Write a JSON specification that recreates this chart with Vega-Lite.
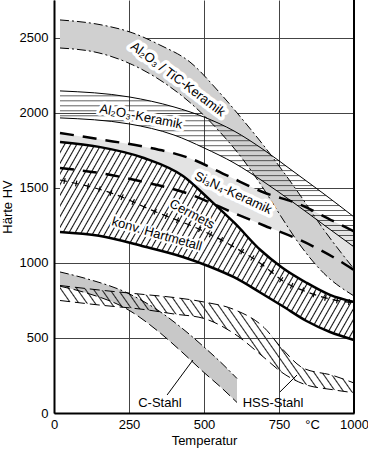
{
"$schema":"https://vega.github.io/schema/vega-lite/v6.json",
"width":300,"height":413,
"autosize":{"type":"none"},
"padding":{"left":54,"top":0,"right":14,"bottom":37},
"background":"white",
"config":{
 "view":{"stroke":null},
 "font":"Liberation Sans",
 "numberFormat":"d",
 "axis":{"labelFont":"Liberation Sans","labelFontSize":13,"labelColor":"#000","titleFont":"Liberation Sans","titleFontSize":13,"titleFontWeight":"normal","titleColor":"#000","ticks":false,"domainColor":"#000","domainWidth":2,"gridColor":"#444","gridWidth":1,"gridOpacity":1},
 "axisX":{"labelPadding":5,"titlePadding":3},
 "axisY":{"labelPadding":6,"titlePadding":5,"tickCount":6}
},
"datasets":{
 "tic":[{"x":20,"lo":2433,"hi":2620},{"x":150,"lo":2400,"hi":2590},{"x":263,"lo":2320,"hi":2533},{"x":353,"lo":2220,"hi":2453},{"x":453,"lo":2070,"hi":2340},{"x":550,"lo":1880,"hi":2140},{"x":630,"lo":1690,"hi":1953},{"x":700,"lo":1490,"hi":1780},{"x":760,"lo":1300,"hi":1620},{"x":820,"lo":1120,"hi":1453},{"x":900,"lo":930,"hi":1220},{"x":1000,"lo":780,"hi":960}],
 "al":[{"x":20,"lo":1967,"hi":2147},{"x":250,"lo":1927,"hi":2107},{"x":400,"lo":1853,"hi":2040},{"x":500,"lo":1767,"hi":1973},{"x":600,"lo":1667,"hi":1880},{"x":700,"lo":1540,"hi":1753},{"x":800,"lo":1400,"hi":1607},{"x":900,"lo":1253,"hi":1460},{"x":1000,"lo":1107,"hi":1307}],
 "si":[{"x":20,"lo":1633,"hi":1867},{"x":150,"lo":1600,"hi":1825},{"x":300,"lo":1540,"hi":1775},{"x":450,"lo":1460,"hi":1700},{"x":580,"lo":1350,"hi":1580},{"x":700,"lo":1250,"hi":1470},{"x":820,"lo":1153,"hi":1390},{"x":930,"lo":1040,"hi":1280},{"x":1000,"lo":953,"hi":1210}],
 "hm":[{"x":20,"lo":1207,"hi":1807},{"x":150,"lo":1181,"hi":1774},{"x":300,"lo":1110,"hi":1700},{"x":430,"lo":1040,"hi":1580},{"x":520,"lo":975,"hi":1420},{"x":600,"lo":905,"hi":1270},{"x":690,"lo":800,"hi":1083},{"x":760,"lo":715,"hi":970},{"x":840,"lo":615,"hi":870},{"x":920,"lo":540,"hi":787},{"x":1000,"lo":487,"hi":740}],
 "ce":[{"x":20,"y":1553},{"x":190,"y":1467},{"x":340,"y":1340},{"x":490,"y":1220},{"x":600,"y":1107},{"x":700,"y":980},{"x":763,"y":880},{"x":843,"y":807},{"x":920,"y":760},{"x":1000,"y":735}],
 "cs":[{"x":20,"lo":845,"hi":940},{"x":100,"lo":805,"hi":900},{"x":250,"lo":685,"hi":795},{"x":350,"lo":540,"hi":680},{"x":430,"lo":400,"hi":560},{"x":500,"lo":270,"hi":440},{"x":560,"lo":165,"hi":330},{"x":610,"lo":70,"hi":230}],
 "hss":[{"x":20,"lo":750,"hi":850},{"x":150,"lo":720,"hi":820},{"x":300,"lo":690,"hi":790},{"x":400,"lo":660,"hi":770},{"x":500,"lo":630,"hi":740},{"x":600,"lo":530,"hi":690},{"x":700,"lo":370,"hi":570},{"x":760,"lo":270,"hi":430},{"x":830,"lo":195,"hi":300},{"x":930,"lo":155,"hi":250},{"x":1000,"lo":135,"hi":200}],
 "lead":[{"g":"c","x":377,"y":120},{"g":"c","x":463,"y":353},{"g":"h","x":753,"y":140},{"g":"h","x":810,"y":253}]
},
"encoding":{"x":{"field":"x","type":"quantitative","scale":{"domain":[0,1000],"nice":false},"title":"Temperatur","axis":{"values":[0,250,500,750,860,1000],"labelExpr":"datum.value == 860 ? '°C' : datum.label","gridOpacity":{"condition":{"test":"datum.value == 860","value":0},"value":1},"labelFlush":false,"labelOverlap":false}}},
"layer":[
 {"data":{"name":"si"},"mark":{"type":"area","interpolate":"monotone","fill":"#e3e3e3"},"encoding":{"y":{"field":"lo","type":"quantitative","scale":{"domain":[0,2753],"nice":false},"title":"Härte HV"},"y2":{"field":"hi"}}},
 {"data":{"name":"tic"},"mark":{"type":"area","interpolate":"monotone","fill":"#d0d0d0"},"encoding":{"y":{"field":"lo","type":"quantitative","scale":{"domain":[0,2753],"nice":false},"title":"Härte HV"},"y2":{"field":"hi"}}},
 {"data":{"name":"al"},"mark":{"type":"area","interpolate":"monotone","fill":{"gradient":"linear","x1":0,"y1":0,"x2":0,"y2":1,"stops":[
{"offset":0.027,"color":"rgba(34,34,34,0)"},{"offset":0.032,"color":"#222"},{"offset":0.037,"color":"rgba(34,34,34,0)"},
{"offset":0.059,"color":"rgba(34,34,34,0)"},{"offset":0.064,"color":"#222"},{"offset":0.069,"color":"rgba(34,34,34,0)"},
{"offset":0.091,"color":"rgba(34,34,34,0)"},{"offset":0.096,"color":"#222"},{"offset":0.101,"color":"rgba(34,34,34,0)"},
{"offset":0.123,"color":"rgba(34,34,34,0)"},{"offset":0.128,"color":"#222"},{"offset":0.133,"color":"rgba(34,34,34,0)"},
{"offset":0.155,"color":"rgba(34,34,34,0)"},{"offset":0.16,"color":"#222"},{"offset":0.165,"color":"rgba(34,34,34,0)"},
{"offset":0.187,"color":"rgba(34,34,34,0)"},{"offset":0.192,"color":"#222"},{"offset":0.197,"color":"rgba(34,34,34,0)"},
{"offset":0.219,"color":"rgba(34,34,34,0)"},{"offset":0.224,"color":"#222"},{"offset":0.229,"color":"rgba(34,34,34,0)"},
{"offset":0.251,"color":"rgba(34,34,34,0)"},{"offset":0.256,"color":"#222"},{"offset":0.261,"color":"rgba(34,34,34,0)"},
{"offset":0.283,"color":"rgba(34,34,34,0)"},{"offset":0.288,"color":"#222"},{"offset":0.293,"color":"rgba(34,34,34,0)"},
{"offset":0.315,"color":"rgba(34,34,34,0)"},{"offset":0.32,"color":"#222"},{"offset":0.325,"color":"rgba(34,34,34,0)"},
{"offset":0.347,"color":"rgba(34,34,34,0)"},{"offset":0.352,"color":"#222"},{"offset":0.357,"color":"rgba(34,34,34,0)"},
{"offset":0.379,"color":"rgba(34,34,34,0)"},{"offset":0.384,"color":"#222"},{"offset":0.389,"color":"rgba(34,34,34,0)"},
{"offset":0.411,"color":"rgba(34,34,34,0)"},{"offset":0.416,"color":"#222"},{"offset":0.421,"color":"rgba(34,34,34,0)"},
{"offset":0.443,"color":"rgba(34,34,34,0)"},{"offset":0.448,"color":"#222"},{"offset":0.453,"color":"rgba(34,34,34,0)"},
{"offset":0.475,"color":"rgba(34,34,34,0)"},{"offset":0.48,"color":"#222"},{"offset":0.485,"color":"rgba(34,34,34,0)"},
{"offset":0.507,"color":"rgba(34,34,34,0)"},{"offset":0.512,"color":"#222"},{"offset":0.517,"color":"rgba(34,34,34,0)"},
{"offset":0.539,"color":"rgba(34,34,34,0)"},{"offset":0.544,"color":"#222"},{"offset":0.549,"color":"rgba(34,34,34,0)"},
{"offset":0.571,"color":"rgba(34,34,34,0)"},{"offset":0.576,"color":"#222"},{"offset":0.581,"color":"rgba(34,34,34,0)"},
{"offset":0.603,"color":"rgba(34,34,34,0)"},{"offset":0.608,"color":"#222"},{"offset":0.613,"color":"rgba(34,34,34,0)"},
{"offset":0.635,"color":"rgba(34,34,34,0)"},{"offset":0.64,"color":"#222"},{"offset":0.645,"color":"rgba(34,34,34,0)"},
{"offset":0.667,"color":"rgba(34,34,34,0)"},{"offset":0.672,"color":"#222"},{"offset":0.677,"color":"rgba(34,34,34,0)"},
{"offset":0.699,"color":"rgba(34,34,34,0)"},{"offset":0.704,"color":"#222"},{"offset":0.709,"color":"rgba(34,34,34,0)"},
{"offset":0.731,"color":"rgba(34,34,34,0)"},{"offset":0.736,"color":"#222"},{"offset":0.741,"color":"rgba(34,34,34,0)"},
{"offset":0.763,"color":"rgba(34,34,34,0)"},{"offset":0.768,"color":"#222"},{"offset":0.773,"color":"rgba(34,34,34,0)"},
{"offset":0.795,"color":"rgba(34,34,34,0)"},{"offset":0.8,"color":"#222"},{"offset":0.805,"color":"rgba(34,34,34,0)"},
{"offset":0.827,"color":"rgba(34,34,34,0)"},{"offset":0.832,"color":"#222"},{"offset":0.837,"color":"rgba(34,34,34,0)"},
{"offset":0.859,"color":"rgba(34,34,34,0)"},{"offset":0.864,"color":"#222"},{"offset":0.869,"color":"rgba(34,34,34,0)"},
{"offset":0.891,"color":"rgba(34,34,34,0)"},{"offset":0.896,"color":"#222"},{"offset":0.901,"color":"rgba(34,34,34,0)"},
{"offset":0.923,"color":"rgba(34,34,34,0)"},{"offset":0.928,"color":"#222"},{"offset":0.933,"color":"rgba(34,34,34,0)"},
{"offset":0.955,"color":"rgba(34,34,34,0)"},{"offset":0.96,"color":"#222"},{"offset":0.965,"color":"rgba(34,34,34,0)"},
{"offset":0.987,"color":"rgba(34,34,34,0)"},{"offset":0.992,"color":"#222"},{"offset":0.997,"color":"rgba(34,34,34,0)"}
]}},"encoding":{"y":{"field":"lo","type":"quantitative","scale":{"domain":[0,2753],"nice":false},"title":"Härte HV"},"y2":{"field":"hi"}}},
 {"data":{"name":"hm"},"mark":{"type":"area","interpolate":"monotone","fill":{"gradient":"linear","x1":0,"y1":0,"x2":1.2,"y2":0.46,"stops":[
{"offset":0.012,"color":"#fff"},{"offset":0.015,"color":"#111"},{"offset":0.018,"color":"#fff"},
{"offset":0.027,"color":"#fff"},{"offset":0.03,"color":"#111"},{"offset":0.033,"color":"#fff"},
{"offset":0.042,"color":"#fff"},{"offset":0.045,"color":"#111"},{"offset":0.048,"color":"#fff"},
{"offset":0.057,"color":"#fff"},{"offset":0.06,"color":"#111"},{"offset":0.063,"color":"#fff"},
{"offset":0.072,"color":"#fff"},{"offset":0.075,"color":"#111"},{"offset":0.078,"color":"#fff"},
{"offset":0.087,"color":"#fff"},{"offset":0.09,"color":"#111"},{"offset":0.093,"color":"#fff"},
{"offset":0.102,"color":"#fff"},{"offset":0.105,"color":"#111"},{"offset":0.108,"color":"#fff"},
{"offset":0.117,"color":"#fff"},{"offset":0.12,"color":"#111"},{"offset":0.123,"color":"#fff"},
{"offset":0.132,"color":"#fff"},{"offset":0.135,"color":"#111"},{"offset":0.138,"color":"#fff"},
{"offset":0.147,"color":"#fff"},{"offset":0.15,"color":"#111"},{"offset":0.153,"color":"#fff"},
{"offset":0.162,"color":"#fff"},{"offset":0.165,"color":"#111"},{"offset":0.168,"color":"#fff"},
{"offset":0.177,"color":"#fff"},{"offset":0.18,"color":"#111"},{"offset":0.183,"color":"#fff"},
{"offset":0.192,"color":"#fff"},{"offset":0.195,"color":"#111"},{"offset":0.198,"color":"#fff"},
{"offset":0.207,"color":"#fff"},{"offset":0.21,"color":"#111"},{"offset":0.213,"color":"#fff"},
{"offset":0.222,"color":"#fff"},{"offset":0.225,"color":"#111"},{"offset":0.228,"color":"#fff"},
{"offset":0.237,"color":"#fff"},{"offset":0.24,"color":"#111"},{"offset":0.243,"color":"#fff"},
{"offset":0.252,"color":"#fff"},{"offset":0.255,"color":"#111"},{"offset":0.258,"color":"#fff"},
{"offset":0.267,"color":"#fff"},{"offset":0.27,"color":"#111"},{"offset":0.273,"color":"#fff"},
{"offset":0.282,"color":"#fff"},{"offset":0.285,"color":"#111"},{"offset":0.288,"color":"#fff"},
{"offset":0.297,"color":"#fff"},{"offset":0.3,"color":"#111"},{"offset":0.303,"color":"#fff"},
{"offset":0.312,"color":"#fff"},{"offset":0.315,"color":"#111"},{"offset":0.318,"color":"#fff"},
{"offset":0.327,"color":"#fff"},{"offset":0.33,"color":"#111"},{"offset":0.333,"color":"#fff"},
{"offset":0.342,"color":"#fff"},{"offset":0.345,"color":"#111"},{"offset":0.348,"color":"#fff"},
{"offset":0.357,"color":"#fff"},{"offset":0.36,"color":"#111"},{"offset":0.363,"color":"#fff"},
{"offset":0.372,"color":"#fff"},{"offset":0.375,"color":"#111"},{"offset":0.378,"color":"#fff"},
{"offset":0.387,"color":"#fff"},{"offset":0.39,"color":"#111"},{"offset":0.393,"color":"#fff"},
{"offset":0.402,"color":"#fff"},{"offset":0.405,"color":"#111"},{"offset":0.408,"color":"#fff"},
{"offset":0.417,"color":"#fff"},{"offset":0.42,"color":"#111"},{"offset":0.423,"color":"#fff"},
{"offset":0.432,"color":"#fff"},{"offset":0.435,"color":"#111"},{"offset":0.438,"color":"#fff"},
{"offset":0.447,"color":"#fff"},{"offset":0.45,"color":"#111"},{"offset":0.453,"color":"#fff"},
{"offset":0.462,"color":"#fff"},{"offset":0.465,"color":"#111"},{"offset":0.468,"color":"#fff"},
{"offset":0.477,"color":"#fff"},{"offset":0.48,"color":"#111"},{"offset":0.483,"color":"#fff"},
{"offset":0.492,"color":"#fff"},{"offset":0.495,"color":"#111"},{"offset":0.498,"color":"#fff"},
{"offset":0.507,"color":"#fff"},{"offset":0.51,"color":"#111"},{"offset":0.513,"color":"#fff"},
{"offset":0.522,"color":"#fff"},{"offset":0.525,"color":"#111"},{"offset":0.528,"color":"#fff"},
{"offset":0.537,"color":"#fff"},{"offset":0.54,"color":"#111"},{"offset":0.543,"color":"#fff"},
{"offset":0.552,"color":"#fff"},{"offset":0.555,"color":"#111"},{"offset":0.558,"color":"#fff"},
{"offset":0.567,"color":"#fff"},{"offset":0.57,"color":"#111"},{"offset":0.573,"color":"#fff"},
{"offset":0.582,"color":"#fff"},{"offset":0.585,"color":"#111"},{"offset":0.588,"color":"#fff"},
{"offset":0.597,"color":"#fff"},{"offset":0.6,"color":"#111"},{"offset":0.603,"color":"#fff"},
{"offset":0.612,"color":"#fff"},{"offset":0.615,"color":"#111"},{"offset":0.618,"color":"#fff"},
{"offset":0.627,"color":"#fff"},{"offset":0.63,"color":"#111"},{"offset":0.633,"color":"#fff"},
{"offset":0.642,"color":"#fff"},{"offset":0.645,"color":"#111"},{"offset":0.648,"color":"#fff"},
{"offset":0.657,"color":"#fff"},{"offset":0.66,"color":"#111"},{"offset":0.663,"color":"#fff"},
{"offset":0.672,"color":"#fff"},{"offset":0.675,"color":"#111"},{"offset":0.678,"color":"#fff"},
{"offset":0.687,"color":"#fff"},{"offset":0.69,"color":"#111"},{"offset":0.693,"color":"#fff"},
{"offset":0.702,"color":"#fff"},{"offset":0.705,"color":"#111"},{"offset":0.708,"color":"#fff"},
{"offset":0.717,"color":"#fff"},{"offset":0.72,"color":"#111"},{"offset":0.723,"color":"#fff"},
{"offset":0.732,"color":"#fff"},{"offset":0.735,"color":"#111"},{"offset":0.738,"color":"#fff"},
{"offset":0.747,"color":"#fff"},{"offset":0.75,"color":"#111"},{"offset":0.753,"color":"#fff"},
{"offset":0.762,"color":"#fff"},{"offset":0.765,"color":"#111"},{"offset":0.768,"color":"#fff"},
{"offset":0.777,"color":"#fff"},{"offset":0.78,"color":"#111"},{"offset":0.783,"color":"#fff"},
{"offset":0.792,"color":"#fff"},{"offset":0.795,"color":"#111"},{"offset":0.798,"color":"#fff"},
{"offset":0.807,"color":"#fff"},{"offset":0.81,"color":"#111"},{"offset":0.813,"color":"#fff"},
{"offset":0.822,"color":"#fff"},{"offset":0.825,"color":"#111"},{"offset":0.828,"color":"#fff"},
{"offset":0.837,"color":"#fff"},{"offset":0.84,"color":"#111"},{"offset":0.843,"color":"#fff"},
{"offset":0.852,"color":"#fff"},{"offset":0.855,"color":"#111"},{"offset":0.858,"color":"#fff"},
{"offset":0.867,"color":"#fff"},{"offset":0.87,"color":"#111"},{"offset":0.873,"color":"#fff"},
{"offset":0.882,"color":"#fff"},{"offset":0.885,"color":"#111"},{"offset":0.888,"color":"#fff"},
{"offset":0.897,"color":"#fff"},{"offset":0.9,"color":"#111"},{"offset":0.903,"color":"#fff"},
{"offset":0.912,"color":"#fff"},{"offset":0.915,"color":"#111"},{"offset":0.918,"color":"#fff"},
{"offset":0.927,"color":"#fff"},{"offset":0.93,"color":"#111"},{"offset":0.933,"color":"#fff"},
{"offset":0.942,"color":"#fff"},{"offset":0.945,"color":"#111"},{"offset":0.948,"color":"#fff"},
{"offset":0.957,"color":"#fff"},{"offset":0.96,"color":"#111"},{"offset":0.963,"color":"#fff"},
{"offset":0.972,"color":"#fff"},{"offset":0.975,"color":"#111"},{"offset":0.978,"color":"#fff"},
{"offset":0.987,"color":"#fff"},{"offset":0.99,"color":"#111"},{"offset":0.993,"color":"#fff"}
]}},"encoding":{"y":{"field":"lo","type":"quantitative","scale":{"domain":[0,2753],"nice":false},"title":"Härte HV"},"y2":{"field":"hi"}}},
 {"data":{"name":"cs"},"mark":{"type":"area","interpolate":"monotone","fill":"#c8c8c8"},"encoding":{"y":{"field":"lo","type":"quantitative","scale":{"domain":[0,2753],"nice":false},"title":"Härte HV"},"y2":{"field":"hi"}}},
 {"data":{"name":"hss"},"mark":{"type":"area","interpolate":"monotone","fill":{"gradient":"linear","x1":0,"y1":1,"x2":1.18,"y2":0.7,"stops":[
{"offset":0.1945,"color":"rgba(34,34,34,0)"},{"offset":0.198,"color":"#222"},{"offset":0.2015,"color":"rgba(34,34,34,0)"},
{"offset":0.2165,"color":"rgba(34,34,34,0)"},{"offset":0.22,"color":"#222"},{"offset":0.2235,"color":"rgba(34,34,34,0)"},
{"offset":0.2385,"color":"rgba(34,34,34,0)"},{"offset":0.242,"color":"#222"},{"offset":0.2455,"color":"rgba(34,34,34,0)"},
{"offset":0.2605,"color":"rgba(34,34,34,0)"},{"offset":0.264,"color":"#222"},{"offset":0.2675,"color":"rgba(34,34,34,0)"},
{"offset":0.2825,"color":"rgba(34,34,34,0)"},{"offset":0.286,"color":"#222"},{"offset":0.2895,"color":"rgba(34,34,34,0)"},
{"offset":0.3045,"color":"rgba(34,34,34,0)"},{"offset":0.308,"color":"#222"},{"offset":0.3115,"color":"rgba(34,34,34,0)"},
{"offset":0.3265,"color":"rgba(34,34,34,0)"},{"offset":0.33,"color":"#222"},{"offset":0.3335,"color":"rgba(34,34,34,0)"},
{"offset":0.3485,"color":"rgba(34,34,34,0)"},{"offset":0.352,"color":"#222"},{"offset":0.3555,"color":"rgba(34,34,34,0)"},
{"offset":0.3705,"color":"rgba(34,34,34,0)"},{"offset":0.374,"color":"#222"},{"offset":0.3775,"color":"rgba(34,34,34,0)"},
{"offset":0.3925,"color":"rgba(34,34,34,0)"},{"offset":0.396,"color":"#222"},{"offset":0.3995,"color":"rgba(34,34,34,0)"},
{"offset":0.4145,"color":"rgba(34,34,34,0)"},{"offset":0.418,"color":"#222"},{"offset":0.4215,"color":"rgba(34,34,34,0)"},
{"offset":0.4365,"color":"rgba(34,34,34,0)"},{"offset":0.44,"color":"#222"},{"offset":0.4435,"color":"rgba(34,34,34,0)"},
{"offset":0.4585,"color":"rgba(34,34,34,0)"},{"offset":0.462,"color":"#222"},{"offset":0.4655,"color":"rgba(34,34,34,0)"},
{"offset":0.4805,"color":"rgba(34,34,34,0)"},{"offset":0.484,"color":"#222"},{"offset":0.4875,"color":"rgba(34,34,34,0)"},
{"offset":0.5025,"color":"rgba(34,34,34,0)"},{"offset":0.506,"color":"#222"},{"offset":0.5095,"color":"rgba(34,34,34,0)"},
{"offset":0.5245,"color":"rgba(34,34,34,0)"},{"offset":0.528,"color":"#222"},{"offset":0.5315,"color":"rgba(34,34,34,0)"},
{"offset":0.5465,"color":"rgba(34,34,34,0)"},{"offset":0.55,"color":"#222"},{"offset":0.5535,"color":"rgba(34,34,34,0)"},
{"offset":0.5685,"color":"rgba(34,34,34,0)"},{"offset":0.572,"color":"#222"},{"offset":0.5755,"color":"rgba(34,34,34,0)"},
{"offset":0.5905,"color":"rgba(34,34,34,0)"},{"offset":0.594,"color":"#222"},{"offset":0.5975,"color":"rgba(34,34,34,0)"},
{"offset":0.6125,"color":"rgba(34,34,34,0)"},{"offset":0.616,"color":"#222"},{"offset":0.6195,"color":"rgba(34,34,34,0)"},
{"offset":0.6345,"color":"rgba(34,34,34,0)"},{"offset":0.638,"color":"#222"},{"offset":0.6415,"color":"rgba(34,34,34,0)"},
{"offset":0.6565,"color":"rgba(34,34,34,0)"},{"offset":0.66,"color":"#222"},{"offset":0.6635,"color":"rgba(34,34,34,0)"},
{"offset":0.6785,"color":"rgba(34,34,34,0)"},{"offset":0.682,"color":"#222"},{"offset":0.6855,"color":"rgba(34,34,34,0)"},
{"offset":0.7005,"color":"rgba(34,34,34,0)"},{"offset":0.704,"color":"#222"},{"offset":0.7075,"color":"rgba(34,34,34,0)"},
{"offset":0.7225,"color":"rgba(34,34,34,0)"},{"offset":0.726,"color":"#222"},{"offset":0.7295,"color":"rgba(34,34,34,0)"},
{"offset":0.7445,"color":"rgba(34,34,34,0)"},{"offset":0.748,"color":"#222"},{"offset":0.7515,"color":"rgba(34,34,34,0)"},
{"offset":0.7665,"color":"rgba(34,34,34,0)"},{"offset":0.77,"color":"#222"},{"offset":0.7735,"color":"rgba(34,34,34,0)"},
{"offset":0.7885,"color":"rgba(34,34,34,0)"},{"offset":0.792,"color":"#222"},{"offset":0.7955,"color":"rgba(34,34,34,0)"},
{"offset":0.8105,"color":"rgba(34,34,34,0)"},{"offset":0.814,"color":"#222"},{"offset":0.8175,"color":"rgba(34,34,34,0)"},
{"offset":0.8325,"color":"rgba(34,34,34,0)"},{"offset":0.836,"color":"#222"},{"offset":0.8395,"color":"rgba(34,34,34,0)"},
{"offset":0.8545,"color":"rgba(34,34,34,0)"},{"offset":0.858,"color":"#222"},{"offset":0.8615,"color":"rgba(34,34,34,0)"},
{"offset":0.8765,"color":"rgba(34,34,34,0)"},{"offset":0.88,"color":"#222"},{"offset":0.8835,"color":"rgba(34,34,34,0)"},
{"offset":0.8985,"color":"rgba(34,34,34,0)"},{"offset":0.902,"color":"#222"},{"offset":0.9055,"color":"rgba(34,34,34,0)"},
{"offset":0.9205,"color":"rgba(34,34,34,0)"},{"offset":0.924,"color":"#222"},{"offset":0.9275,"color":"rgba(34,34,34,0)"},
{"offset":0.9425,"color":"rgba(34,34,34,0)"},{"offset":0.946,"color":"#222"},{"offset":0.9495,"color":"rgba(34,34,34,0)"},
{"offset":0.9645,"color":"rgba(34,34,34,0)"},{"offset":0.968,"color":"#222"},{"offset":0.9715,"color":"rgba(34,34,34,0)"},
{"offset":0.9865,"color":"rgba(34,34,34,0)"},{"offset":0.99,"color":"#222"},{"offset":0.9935,"color":"rgba(34,34,34,0)"}
]}},"encoding":{"y":{"field":"lo","type":"quantitative","scale":{"domain":[0,2753],"nice":false},"title":"Härte HV"},"y2":{"field":"hi"}}},
 {"data":{"name":"tic"},"mark":{"type":"line","interpolate":"monotone","color":"#000","strokeWidth":1,"strokeDash":[9,3,2,3]},"encoding":{"y":{"field":"hi","type":"quantitative","scale":{"domain":[0,2753],"nice":false},"title":"Härte HV"}}},
 {"data":{"name":"tic"},"mark":{"type":"line","interpolate":"monotone","color":"#000","strokeWidth":1,"strokeDash":[9,3,2,3]},"encoding":{"y":{"field":"lo","type":"quantitative","scale":{"domain":[0,2753],"nice":false},"title":"Härte HV"}}},
 {"data":{"name":"al"},"mark":{"type":"line","interpolate":"monotone","color":"#000","strokeWidth":1},"encoding":{"y":{"field":"hi","type":"quantitative","scale":{"domain":[0,2753],"nice":false},"title":"Härte HV"}}},
 {"data":{"name":"al"},"mark":{"type":"line","interpolate":"monotone","color":"#000","strokeWidth":1},"encoding":{"y":{"field":"lo","type":"quantitative","scale":{"domain":[0,2753],"nice":false},"title":"Härte HV"}}},
 {"data":{"name":"si"},"mark":{"type":"line","interpolate":"monotone","color":"#000","strokeWidth":2.5,"strokeDash":[14,9]},"encoding":{"y":{"field":"hi","type":"quantitative","scale":{"domain":[0,2753],"nice":false},"title":"Härte HV"}}},
 {"data":{"name":"si"},"mark":{"type":"line","interpolate":"monotone","color":"#000","strokeWidth":2.5,"strokeDash":[14,9]},"encoding":{"y":{"field":"lo","type":"quantitative","scale":{"domain":[0,2753],"nice":false},"title":"Härte HV"}}},
 {"data":{"name":"ce"},"mark":{"type":"line","interpolate":"monotone","color":"#000","strokeWidth":1.2,"strokeDash":[7,5]},"encoding":{"y":{"field":"y","type":"quantitative","scale":{"domain":[0,2753],"nice":false},"title":"Härte HV"}}},
 {"data":{"name":"ce"},"mark":{"type":"line","interpolate":"monotone","color":"#000","strokeWidth":6,"strokeCap":"butt","strokeDash":[1.2,10.8],"strokeDashOffset":-4},"encoding":{"y":{"field":"y","type":"quantitative","scale":{"domain":[0,2753],"nice":false},"title":"Härte HV"}}},
 {"data":{"name":"hm"},"mark":{"type":"line","interpolate":"monotone","color":"#000","strokeWidth":2.5},"encoding":{"y":{"field":"hi","type":"quantitative","scale":{"domain":[0,2753],"nice":false},"title":"Härte HV"}}},
 {"data":{"name":"hm"},"mark":{"type":"line","interpolate":"monotone","color":"#000","strokeWidth":2.5},"encoding":{"y":{"field":"lo","type":"quantitative","scale":{"domain":[0,2753],"nice":false},"title":"Härte HV"}}},
 {"data":{"name":"cs"},"mark":{"type":"line","interpolate":"monotone","color":"#000","strokeWidth":1,"strokeDash":[9,3,2,3]},"encoding":{"y":{"field":"hi","type":"quantitative","scale":{"domain":[0,2753],"nice":false},"title":"Härte HV"}}},
 {"data":{"name":"cs"},"mark":{"type":"line","interpolate":"monotone","color":"#000","strokeWidth":1,"strokeDash":[10,4]},"encoding":{"y":{"field":"lo","type":"quantitative","scale":{"domain":[0,2753],"nice":false},"title":"Härte HV"}}},
 {"data":{"name":"hss"},"mark":{"type":"line","interpolate":"monotone","color":"#000","strokeWidth":1,"strokeDash":[10,5]},"encoding":{"y":{"field":"hi","type":"quantitative","scale":{"domain":[0,2753],"nice":false},"title":"Härte HV"}}},
 {"data":{"name":"hss"},"mark":{"type":"line","interpolate":"monotone","color":"#000","strokeWidth":1,"strokeDash":[10,5]},"encoding":{"y":{"field":"lo","type":"quantitative","scale":{"domain":[0,2753],"nice":false},"title":"Härte HV"}}},
 {"data":{"name":"lead"},"mark":{"type":"line","color":"#000","strokeWidth":1},"encoding":{"y":{"field":"y","type":"quantitative","scale":{"domain":[0,2753],"nice":false},"title":"Härte HV"},"detail":{"field":"g"}}},
 {"data":{"values":[{"x":1000}]},"mark":{"type":"rule","color":"#000","strokeWidth":2},"encoding":{}},
 {"data":{"values":[{"x":413,"y":2225,"t":"Al₂O₃ / TiC-Keramik"}]},"encoding":{"y":{"field":"y","type":"quantitative","scale":{"domain":[0,2753],"nice":false},"title":"Härte HV"},"text":{"field":"t"}},"layer":[
   {"mark":{"type":"text","angle":37,"fontSize":13,"font":"Liberation Sans","fill":"#fff","stroke":"#fff","strokeWidth":7,"strokeJoin":"round"}},
   {"mark":{"type":"text","angle":37,"fontSize":13,"font":"Liberation Sans","fill":"#000"}}]},
 {"data":{"values":[{"x":290,"y":1975,"t":"Al₂O₃-Keramik"}]},"encoding":{"y":{"field":"y","type":"quantitative","scale":{"domain":[0,2753],"nice":false},"title":"Härte HV"},"text":{"field":"t"}},"layer":[
   {"mark":{"type":"text","angle":11,"fontSize":13,"font":"Liberation Sans","fill":"#fff","stroke":"#fff","strokeWidth":6,"strokeJoin":"round"}},
   {"mark":{"type":"text","angle":11,"fontSize":13,"font":"Liberation Sans","fill":"#000"}}]},
 {"data":{"values":[{"x":597,"y":1467,"t":"Si₃N₄-Keramik"}]},"encoding":{"y":{"field":"y","type":"quantitative","scale":{"domain":[0,2753],"nice":false},"title":"Härte HV"},"text":{"field":"t"}},"layer":[
   {"mark":{"type":"text","angle":25,"fontSize":13,"font":"Liberation Sans","fill":"#fff","stroke":"#fff","strokeWidth":7,"strokeJoin":"round"}},
   {"mark":{"type":"text","angle":25,"fontSize":13,"font":"Liberation Sans","fill":"#000"}}]},
 {"data":{"values":[{"x":460,"y":1325,"t":"Cermets"}]},"encoding":{"y":{"field":"y","type":"quantitative","scale":{"domain":[0,2753],"nice":false},"title":"Härte HV"},"text":{"field":"t"}},"layer":[
   {"mark":{"type":"text","angle":28,"fontSize":13,"font":"Liberation Sans","fill":"#fff","stroke":"#fff","strokeWidth":4,"strokeJoin":"round"}},
   {"mark":{"type":"text","angle":28,"fontSize":13,"font":"Liberation Sans","fill":"#000"}}]},
 {"data":{"values":[{"x":343,"y":1193,"t":"konv. Hartmetall"}]},"encoding":{"y":{"field":"y","type":"quantitative","scale":{"domain":[0,2753],"nice":false},"title":"Härte HV"},"text":{"field":"t"}},"layer":[
   {"mark":{"type":"text","angle":16,"fontSize":13,"font":"Liberation Sans","fill":"#fff","stroke":"#fff","strokeWidth":4,"strokeJoin":"round"}},
   {"mark":{"type":"text","angle":16,"fontSize":13,"font":"Liberation Sans","fill":"#000"}}]},
 {"data":{"values":[{"x":353,"y":67,"t":"C-Stahl"},{"x":730,"y":67,"t":"HSS-Stahl"}]},"mark":{"type":"text","fontSize":13,"font":"Liberation Sans","fill":"#000"},"encoding":{"y":{"field":"y","type":"quantitative","scale":{"domain":[0,2753],"nice":false},"title":"Härte HV"},"text":{"field":"t"}}}
]
}
